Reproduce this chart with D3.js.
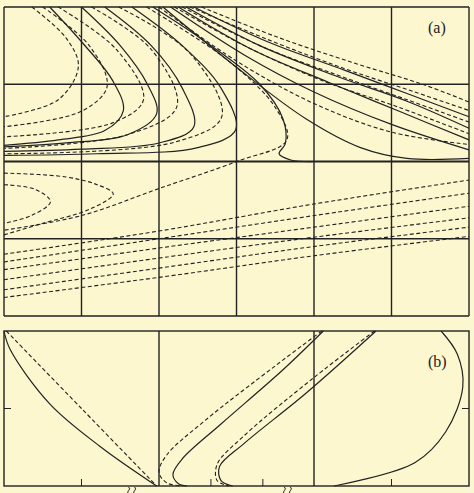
<!DOCTYPE html><html><head><meta charset="utf-8">
<script src="https://cdn.jsdelivr.net/npm/d3@7"></script>
<style>body{margin:0;background:#fcf7cf}</style></head><body><svg id="c" width="474" height="493"></svg>
<script>
const aSolid = [
 [[0.59,0],[1.0,0.45],[1.4,0.95],[1.54,1.34],[1.3,1.6],[0.7,1.72],[0,1.79]],
 [[1.0,0],[1.5,0.5],[1.85,1.0],[1.97,1.38],[1.6,1.65],[0.8,1.76],[0,1.81]],
 [[1.3,0],[1.9,0.5],[2.3,1.05],[2.45,1.55],[2.0,1.76],[1.0,1.84],[0,1.87]],
 [[1.65,0],[2.3,0.5],[2.8,1.05],[2.99,1.59],[2.5,1.82],[1.2,1.9],[0,1.92]],
 [[1.92,0],[2.6,0.45],[3.3,1.0],[3.6,1.45],[3.63,1.77],[3.55,1.9],[3.7,1.98],[4.0,2.0]],
 [[2.05,0],[3.0,0.78],[3.9,1.45],[4.6,1.82],[5.2,1.96],[6,1.96]],
 [[2.15,0],[3.1,0.62],[4.0,1.1],[5.0,1.52],[6,1.85]],
 [[2.25,0],[3.2,0.55],[4.2,0.98],[5.1,1.35],[6,1.72]],
 [[2.35,0],[3.3,0.5],[4.3,0.9],[5.2,1.22],[6,1.57]],
 [[2.45,0],[3.4,0.45],[4.4,0.82],[5.2,1.12],[6,1.42]]
];
const aDashed = [
 [[0.36,0],[0.8,0.4],[0.96,0.77],[0.7,1.2],[0,1.42]],
 [[0.5,0],[1.1,0.5],[1.33,1.03],[1.0,1.35],[0,1.55]],
 [[0.7,0],[1.45,0.55],[1.8,1.2],[1.4,1.5],[0,1.68]],
 [[1.13,0],[1.9,0.55],[2.23,1.29],[1.6,1.65],[0,1.83]],
 [[1.48,0],[2.4,0.6],[2.81,1.42],[2.2,1.75],[0,1.9]],
 [[1.84,0],[2.9,0.7],[3.5,1.3],[3.65,1.72],[3.0,2.0],[2.0,2.35],[1.0,2.7],[0,2.89]],
 [[2.0,0],[3.0,0.7],[4.0,1.25],[5.0,1.62],[6,1.78]],
 [[2.2,0],[3.1,0.5],[4.1,0.95],[5.1,1.3],[6,1.64]],
 [[2.3,0],[3.3,0.5],[4.3,0.88],[5.2,1.2],[6,1.49]],
 [[2.4,0],[3.4,0.42],[4.4,0.8],[5.3,1.1],[6,1.34]],
 [[2.55,0],[3.5,0.38],[4.5,0.72],[5.4,1.0],[6,1.23]],
 [[0,2.15],[0.8,2.2],[1.2,2.3],[1.41,2.42],[1.1,2.62],[0.5,2.8],[0,2.95]],
 [[0,2.3],[0.4,2.36],[0.6,2.52],[0.35,2.7],[0,2.8]],
 [[0,3.2],[2,2.9],[4,2.55],[6,2.24]],
 [[0,3.3],[2,3.0],[4,2.7],[6,2.41]],
 [[0,3.4],[2,3.12],[4,2.85],[6,2.58]],
 [[0,3.53],[2,3.25],[4,2.98],[6,2.73]],
 [[0,3.66],[2,3.38],[4,3.1],[6,2.85]],
 [[0,3.76],[2,3.5],[4,3.22],[6,2.97]]
];
const bSolid = [
 [[0,0],[0.08,0.24],[0.59,0.94],[1.24,1.49],[1.97,2]],
 [[4.12,0],[3.6,0.5],[2.8,1.2],[2.3,1.65],[2.18,1.85],[2.25,1.97],[2.36,2]],
 [[4.8,0],[3.9,0.8],[3.1,1.45],[2.78,1.75],[2.8,1.93],[2.95,2]],
 [[5.64,0],[5.85,0.3],[5.92,0.72],[5.7,1.3],[5.3,1.7],[4.26,2]]
];
const bDashed = [
 [[0.03,0],[1.0,1.0],[1.97,2]],
 [[4.1,0],[3.5,0.45],[2.6,1.15],[2.1,1.6],[2.0,1.82],[2.1,1.96],[2.3,2]],
 [[4.78,0],[4.0,0.6],[3.1,1.35],[2.75,1.72],[2.75,1.93],[2.9,2]]
];
const bTicksX = [1, 2.67, 3.34, 5];
const bBreaks = [1.66, 3.67];

const svg = d3.select("#c");
const ink = "#222";
const font = "'Liberation Serif','DejaVu Serif',serif";
const ax = d3.scaleLinear([0,6],[4,469]);
const ay = d3.scaleLinear([0,4],[7,316]);
const ga = svg.append("g");
ga.append("g").selectAll("line").data(d3.range(7)).join("line")
 .attr("x1",d=>ax(d)).attr("x2",d=>ax(d)).attr("y1",ay(0)).attr("y2",ay(4)).attr("stroke",ink).attr("stroke-width",1.4);
ga.append("g").selectAll("line").data(d3.range(5)).join("line")
 .attr("y1",d=>ay(d)).attr("y2",d=>ay(d)).attr("x1",ax(0)).attr("x2",ax(6)).attr("stroke",ink).attr("stroke-width",d=>d==2?1.8:1.4);
const la = d3.line().x(d=>ax(d[0])).y(d=>ay(d[1])).curve(d3.curveCatmullRom.alpha(0.5));
ga.selectAll(".s").data(aSolid).join("path").attr("d",la).attr("fill","none").attr("stroke",ink).attr("stroke-width",1.2);
ga.selectAll(".d").data(aDashed).join("path").attr("d",la).attr("fill","none").attr("stroke",ink).attr("stroke-width",1.1).attr("stroke-dasharray","4,2.5");
svg.append("text").attr("x",428).attr("y",33).text("(a)").attr("font-family",font).attr("font-size",16).attr("fill",ink);
const bx = d3.scaleLinear([0,6],[4,469]);
const by = d3.scaleLinear([0,2],[331,486]);
const gb = svg.append("g");
gb.append("rect").attr("x",bx(0)).attr("y",by(0)).attr("width",bx(6)-bx(0)).attr("height",by(2)-by(0)).attr("fill","none").attr("stroke",ink).attr("stroke-width",1.4);
gb.selectAll(".v").data([2,4]).join("line").attr("x1",d=>bx(d)).attr("x2",d=>bx(d)).attr("y1",by(0)).attr("y2",by(2)).attr("stroke",ink).attr("stroke-width",1.4);
gb.selectAll(".t").data(bTicksX).join("line").attr("x1",d=>bx(d)).attr("x2",d=>bx(d)).attr("y1",by(2)).attr("y2",by(2)-7).attr("stroke",ink);
gb.append("line").attr("x1",bx(0)).attr("x2",bx(0)+7).attr("y1",by(1)).attr("y2",by(1)).attr("stroke",ink);
gb.append("line").attr("x1",bx(6)).attr("x2",bx(6)-7).attr("y1",by(1)).attr("y2",by(1)).attr("stroke",ink);
// break marks: two small squiggles below the axis
gb.selectAll(".br").data(bBreaks.flatMap(b=>[[b,-3],[b,3]])).join("path")
 .attr("d",d=>{const x=bx(d[0])+d[1], y=by(2)+1; return `M${x-1},${y} q2,2 0,3.5 q-2,1.5 0,3.5`;})
 .attr("fill","none").attr("stroke",ink).attr("stroke-width",1);
const lb = d3.line().x(d=>bx(d[0])).y(d=>by(d[1])).curve(d3.curveCatmullRom.alpha(0.5));
gb.selectAll(".s").data(bSolid).join("path").attr("d",lb).attr("fill","none").attr("stroke",ink).attr("stroke-width",1.2);
gb.selectAll(".d").data(bDashed).join("path").attr("d",lb).attr("fill","none").attr("stroke",ink).attr("stroke-width",1.1).attr("stroke-dasharray","4,2.5");
svg.append("text").attr("x",428).attr("y",367).text("(b)").attr("font-family",font).attr("font-size",16).attr("fill",ink);
</script></body></html>
